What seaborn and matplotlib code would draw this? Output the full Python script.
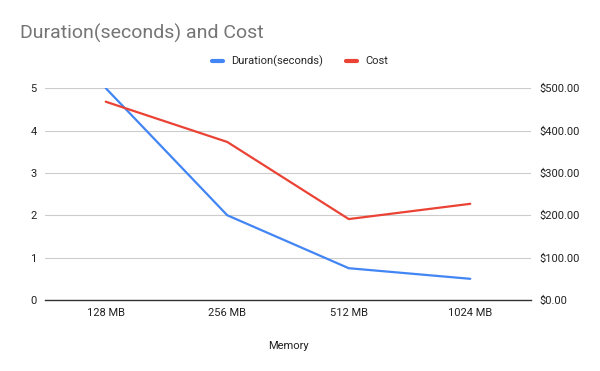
import pandas as pd
import matplotlib.pyplot as plt
import seaborn as sns
from matplotlib.ticker import FuncFormatter

memory = ['128 MB', '256 MB', '512 MB', '1024 MB']
duration = [5, 2, 0.75, 0.5]
cost = [468, 373, 191, 227]

df = pd.DataFrame({'Memory': memory, 'Duration(seconds)': duration, 'Cost': cost})

sns.set_style('white')
plt.rcParams['font.family'] = ['Roboto', 'DejaVu Sans']

blue = '#4285F4'
red = '#EA4335'

fig = plt.figure(figsize=(6, 3.71), dpi=100)
ax = fig.add_axes([0.075, 0.1914, 0.81, 0.571])
ax2 = ax.twinx()

sns.lineplot(data=df, x='Memory', y='Duration(seconds)', ax=ax, color=blue, linewidth=1.6, sort=False)
sns.lineplot(data=df, x='Memory', y='Cost', ax=ax2, color=red, linewidth=1.6, sort=False)

ax.set_xlim(-0.5, 3.5)
ax.set_ylim(0, 5)
ax2.set_ylim(0, 500)
ax.set_yticks(range(0, 6))
ax2.set_yticks(range(0, 501, 100))
ax2.yaxis.set_major_formatter(FuncFormatter(lambda v, p: f'${v:.2f}'))

ax.grid(axis='y', color='#cccccc', linewidth=0.8)
ax.set_axisbelow(True)
for a in (ax, ax2):
    for s in a.spines.values():
        s.set_visible(False)
    a.tick_params(length=0, labelsize=8, colors='#222222', pad=6)
ax.spines['bottom'].set_visible(True)
ax.spines['bottom'].set_color('#333333')
ax.spines['bottom'].set_linewidth(1)

ax.set_ylabel('')
ax2.set_ylabel('')
ax.set_xlabel('Memory', fontsize=8, color='#222222', labelpad=16)

fig.text(0.033, 0.91, 'Duration(seconds) and Cost', fontsize=14, color='#757575', va='center')

handles = [plt.Line2D([], [], color=blue, linewidth=3), plt.Line2D([], [], color=red, linewidth=3)]
fig.legend(handles, ['Duration(seconds)', 'Cost'], loc='center', bbox_to_anchor=(0.5, 0.835),
           ncol=2, frameon=False, fontsize=8, handlelength=1.0, columnspacing=2.0, handletextpad=0.8)

plt.savefig('out.png', dpi=100)
